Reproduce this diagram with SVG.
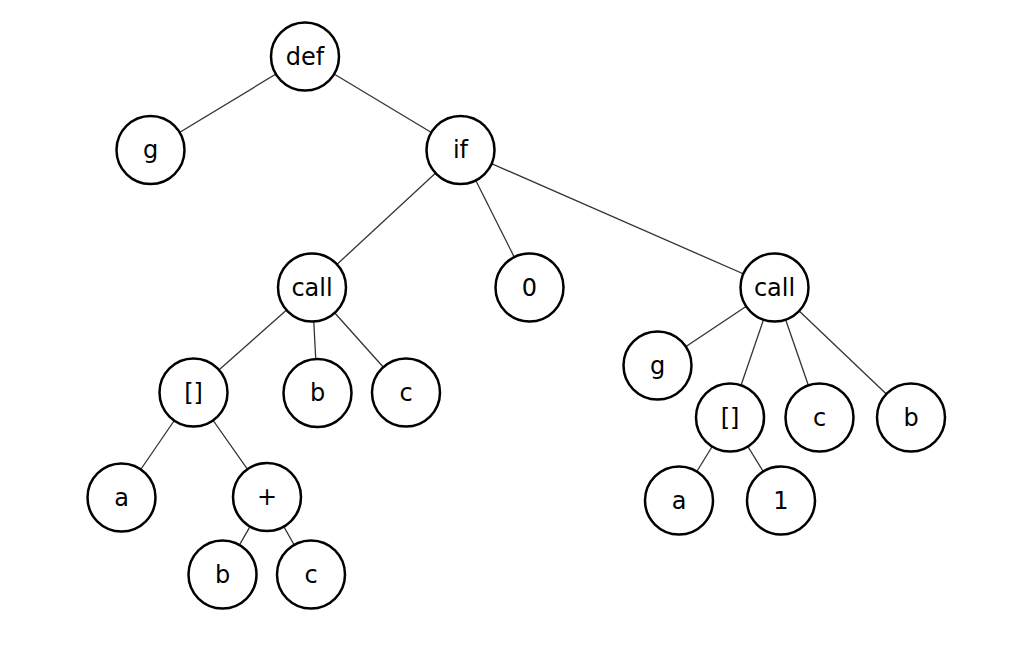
<svg xmlns="http://www.w3.org/2000/svg" width="1024" height="645" viewBox="0 0 1024 645">
<style>
.e{stroke:#333;stroke-width:1.3;fill:none}
.n circle{fill:#fff;stroke:#000;stroke-width:2.5}
.n text{font-family:"DejaVu Sans",sans-serif;font-size:24px;fill:#000;text-anchor:middle;dominant-baseline:central}
</style>
<rect width="1024" height="645" fill="#fff"/>
<g id="edges">
<line class="e" x1="305" y1="56.5" x2="150.5" y2="150"/>
<line class="e" x1="305" y1="56.5" x2="460.5" y2="150"/>
<line class="e" x1="460.5" y1="150" x2="312" y2="287.5"/>
<line class="e" x1="460.5" y1="150" x2="529.5" y2="287.5"/>
<line class="e" x1="460.5" y1="150" x2="774.5" y2="287.5"/>
<line class="e" x1="312" y1="287.5" x2="193.5" y2="392.5"/>
<line class="e" x1="312" y1="287.5" x2="317.5" y2="393"/>
<line class="e" x1="312" y1="287.5" x2="406" y2="392.5"/>
<line class="e" x1="193.5" y1="392.5" x2="121.5" y2="497.5"/>
<line class="e" x1="193.5" y1="392.5" x2="267" y2="497"/>
<line class="e" x1="267" y1="497" x2="222.5" y2="574.5"/>
<line class="e" x1="267" y1="497" x2="311" y2="574.5"/>
<line class="e" x1="774.5" y1="287.5" x2="657.5" y2="365.5"/>
<line class="e" x1="774.5" y1="287.5" x2="730" y2="417.5"/>
<line class="e" x1="774.5" y1="287.5" x2="819.5" y2="417.5"/>
<line class="e" x1="774.5" y1="287.5" x2="911" y2="417.5"/>
<line class="e" x1="730" y1="417.5" x2="679" y2="500.5"/>
<line class="e" x1="730" y1="417.5" x2="781" y2="500.5"/>
</g>
<g id="n-def" class="n"><circle cx="305" cy="56.5" r="34"/><text x="305" y="56.5">def</text></g>
<g id="n-g1" class="n"><circle cx="150.5" cy="150" r="34"/><text x="150.5" y="150">g</text></g>
<g id="n-if" class="n"><circle cx="460.5" cy="150" r="34"/><text x="460.5" y="150">if</text></g>
<g id="n-call1" class="n"><circle cx="312" cy="287.5" r="34"/><text x="312" y="287.5">call</text></g>
<g id="n-zero" class="n"><circle cx="529.5" cy="287.5" r="34"/><text x="529.5" y="287.5">0</text></g>
<g id="n-call2" class="n"><circle cx="774.5" cy="287.5" r="34"/><text x="774.5" y="287.5">call</text></g>
<g id="n-idx1" class="n"><circle cx="193.5" cy="392.5" r="34"/><text x="193.5" y="392.5">[]</text></g>
<g id="n-b1" class="n"><circle cx="317.5" cy="393" r="34"/><text x="317.5" y="393">b</text></g>
<g id="n-c1" class="n"><circle cx="406" cy="392.5" r="34"/><text x="406" y="392.5">c</text></g>
<g id="n-a1" class="n"><circle cx="121.5" cy="497.5" r="34"/><text x="121.5" y="497.5">a</text></g>
<g id="n-plus" class="n"><circle cx="267" cy="497" r="34"/><text x="267" y="497">+</text></g>
<g id="n-b2" class="n"><circle cx="222.5" cy="574.5" r="34"/><text x="222.5" y="574.5">b</text></g>
<g id="n-c2" class="n"><circle cx="311" cy="574.5" r="34"/><text x="311" y="574.5">c</text></g>
<g id="n-g2" class="n"><circle cx="657.5" cy="365.5" r="34"/><text x="657.5" y="365.5">g</text></g>
<g id="n-idx2" class="n"><circle cx="730" cy="417.5" r="34"/><text x="730" y="417.5">[]</text></g>
<g id="n-c3" class="n"><circle cx="819.5" cy="417.5" r="34"/><text x="819.5" y="417.5">c</text></g>
<g id="n-b3" class="n"><circle cx="911" cy="417.5" r="34"/><text x="911" y="417.5">b</text></g>
<g id="n-a2" class="n"><circle cx="679" cy="500.5" r="34"/><text x="679" y="500.5">a</text></g>
<g id="n-one" class="n"><circle cx="781" cy="500.5" r="34"/><text x="781" y="500.5">1</text></g>
</svg>
